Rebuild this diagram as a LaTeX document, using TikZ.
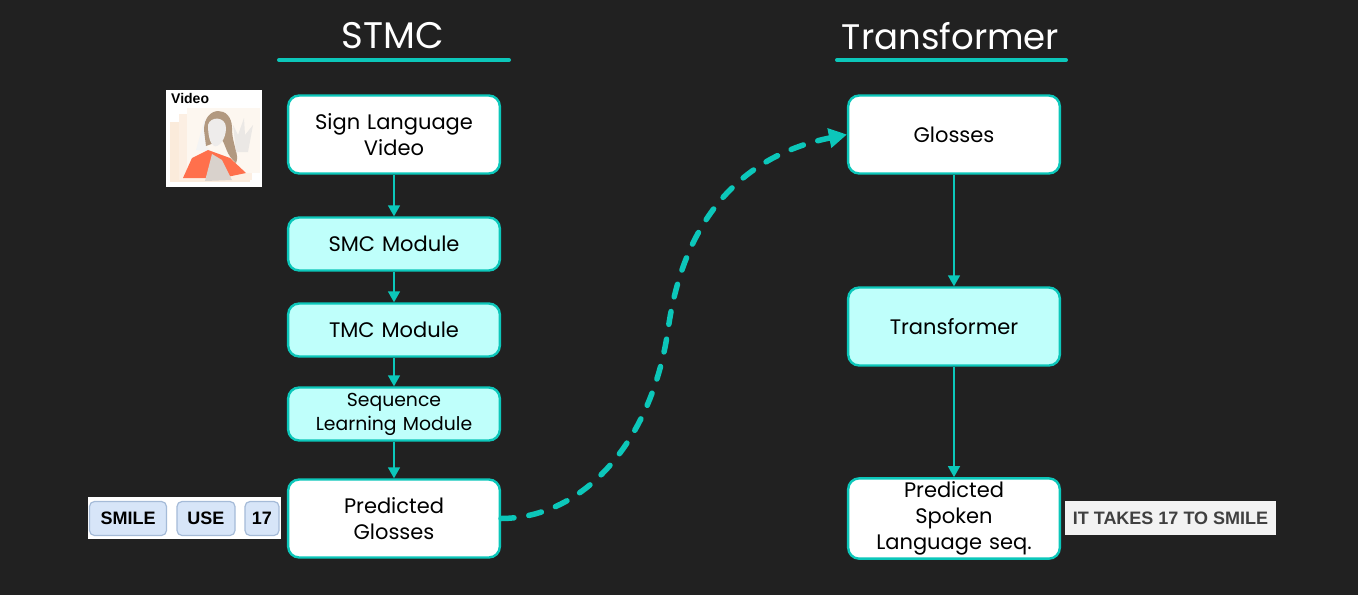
\documentclass[tikz,border=0pt]{standalone}
\usepackage{fontspec}
\setmainfont{Poppins}
\newfontfamily\labelfont{Liberation Sans}
\usetikzlibrary{arrows.meta}
\definecolor{bgdark}{HTML}{212121}
\definecolor{teal1}{HTML}{0CC7BA}
\definecolor{cyan1}{HTML}{BFFFFB}
\definecolor{chipblue}{HTML}{D7E5F8}
\definecolor{chipedge}{HTML}{A5BBD8}
\tikzstyle{line} = [draw=teal1, line width=1.5pt, -{Triangle[length=11pt,width=12pt]}]
\tikzstyle{jump} = [draw=teal1, line width=5.5pt, line cap=round, dash pattern=on 13pt off 15pt, -{Triangle[length=18pt,width=19pt]}]
\tikzstyle{rule} = [draw=teal1, line width=4pt, line cap=round]
\tikzstyle{title} = [text=white, font=\fontsize{37}{37}\selectfont]
\tikzstyle{io} = [rectangle, draw=teal1, line width=2.4pt, rounded corners=11pt, fill=white, text=black, text width=205pt, minimum width=209pt, minimum height=78pt, align=center, font=\fontsize{21}{26}\selectfont]
\tikzstyle{module} = [io, fill=cyan1, minimum height=53pt]
\tikzstyle{chip} = [rectangle, draw=chipedge, line width=1.2pt, rounded corners=5pt, fill=chipblue, minimum height=34pt, inner sep=0pt, font=\labelfont\bfseries\fontsize{18}{18}\selectfont]
\begin{document}
\begin{tikzpicture}[x=1pt, y=-1pt]
	\useasboundingbox [fill=bgdark] (0,0) rectangle (1358,595);

	% left column
	\node [io] (video) at (394,134.5) {Sign Language\\Video};
	\node [module, below of=video, node distance=109.5pt] (smc) {SMC Module};
	\node [module, below of=smc, node distance=86pt] (tmc) {TMC Module};
	\node [module, below of=tmc, node distance=84pt, font=\fontsize{18.8}{24}\selectfont] (seq) {Sequence\\Learning Module};
	\node [io, below of=seq, node distance=104.5pt] (pred) {Predicted\\Glosses};

	% right column
	\node [io] (gloss) at (954,134.5) {Glosses};
	\node [module, below of=gloss, node distance=192pt, minimum height=78pt] (trans) {Transformer};
	\node [io, below of=trans, node distance=192pt] (spoken) {Predicted\\Spoken\\Language seq.};

	\node [title] (stmc) at (392.5,36) {STMC};
	\node [title, font=\fontsize{35.5}{36}\selectfont] (tf) at (950.5,36) {Transformer};
	\coordinate (r1) at (279,60);
	\coordinate (r2) at (509,60);
	\coordinate (r3) at (837,60);
	\coordinate (r4) at (1066,60);
	\path [rule] (r1) to (r2);
	\path [rule] (r3) to (r4);

	\path [line] (video) to (smc);
	\path [line] (smc) to (tmc);
	\path [line] (tmc) to (seq);
	\path [line] (seq) to (pred);
	\path [line] (gloss) to (trans);
	\path [line] (trans) to (spoken);

	\path [jump] (pred.east) .. controls (585,518) and (652,440) .. (668,330) .. controls (684,215) and (745,155) .. (gloss.west);

	% video thumbnail
	\fill [white] (166,90) rectangle (262,187);
	\fill [black!12!orange!14!white] (170,122) rectangle (250,182);
	\fill [black!12!orange!11!white] (179,114) rectangle (252,180);
	\fill [black!10!orange!6!white] (187,108) rectangle (260,173);
	\fill [white!65!black!12!white] (196,150) -- (205,118) -- (206,146) -- (212,152) -- cycle;
	\fill [red!60!orange!70!white] (183,178) -- (192,158) -- (208,150) -- (230,158) -- (246,173) -- (222,178) -- cycle;
	\fill [orange!25!black!20!white] (205,181) -- (212,154) -- (222,160) -- (232,180) -- cycle;
	\fill [black!60!orange!50!white] (204,130) .. controls (204,105) and (232,105) .. (232,128) .. controls (232,145) and (240,155) .. (236,163) .. controls (226,155) and (226,145) .. (222,140) -- (206,146) -- cycle;
	\fill [orange!18!black!8!white] (208,125) .. controls (210,116) and (226,116) .. (226,128) .. controls (226,140) and (218,148) .. (214,146) .. controls (210,144) and (208,135) .. (208,125) -- cycle;
	\fill [orange!22!black!10!white] (236,152) -- (233,125) -- (238,135) -- (244,118) -- (245,135) -- (253,125) -- (248,152) -- cycle;
	\node [anchor=west, inner sep=0pt, font=\labelfont\bfseries\fontsize{14}{14}\selectfont] (vlabel) at (171,98.5) {Video};

	% gloss strip
	\fill [white] (88,497) rectangle (281,539);
	\node [chip, minimum width=77pt] (smile) at (128,518.5) {SMILE};
	\node [chip, minimum width=58pt, right of=smile, node distance=78pt] (use) {USE};
	\node [chip, minimum width=34pt, right of=use, node distance=56pt] (num) {17};

	% spoken sentence strip
	\node [rectangle, fill=black!5, text=black!75, minimum width=211pt, minimum height=34pt, inner sep=0pt, font=\labelfont\bfseries\fontsize{18}{18}\selectfont] (sent) at (1170.5,518) {IT TAKES 17 TO SMILE};
\end{tikzpicture}
\end{document}
